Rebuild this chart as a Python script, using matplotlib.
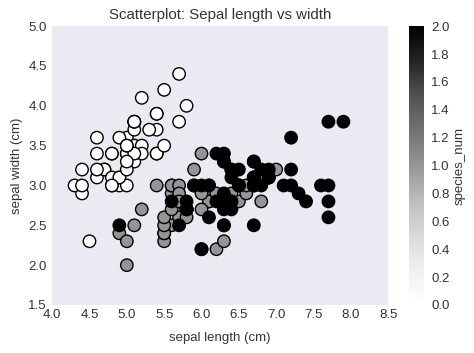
import matplotlib
matplotlib.use('Agg')
import matplotlib.pyplot as plt
import numpy as np

sepal_length = [
    5.1, 4.9, 4.7, 4.6, 5.0, 5.4, 4.6, 5.0, 4.4, 4.9, 5.4, 4.8, 4.8, 4.3, 5.8, 5.7, 5.4, 5.1, 5.7, 5.1,
    5.4, 5.1, 4.6, 5.1, 4.8, 5.0, 5.0, 5.2, 5.2, 4.7, 4.8, 5.4, 5.2, 5.5, 4.9, 5.0, 5.5, 4.9, 4.4, 5.1,
    5.0, 4.5, 4.4, 5.0, 5.1, 4.8, 5.1, 4.6, 5.3, 5.0,
    7.0, 6.4, 6.9, 5.5, 6.5, 5.7, 6.3, 4.9, 6.6, 5.2, 5.0, 5.9, 6.0, 6.1, 5.6, 6.7, 5.6, 5.8, 6.2, 5.6,
    5.9, 6.1, 6.3, 6.1, 6.4, 6.6, 6.8, 6.7, 6.0, 5.7, 5.5, 5.5, 5.8, 6.0, 5.4, 6.0, 6.7, 6.3, 5.6, 5.5,
    5.5, 6.1, 5.8, 5.0, 5.6, 5.7, 5.7, 6.2, 5.1, 5.7,
    6.3, 5.8, 7.1, 6.3, 6.5, 7.6, 4.9, 7.3, 6.7, 7.2, 6.5, 6.4, 6.8, 5.7, 5.8, 6.4, 6.5, 7.7, 7.7, 6.0,
    6.9, 5.6, 7.7, 6.3, 6.7, 7.2, 6.2, 6.1, 6.4, 7.2, 7.4, 7.9, 6.4, 6.3, 6.1, 7.7, 6.3, 6.4, 6.0, 6.9,
    6.7, 6.9, 5.8, 6.8, 6.7, 6.7, 6.3, 6.5, 6.2, 5.9,
]
sepal_width = [
    3.5, 3.0, 3.2, 3.1, 3.6, 3.9, 3.4, 3.4, 2.9, 3.1, 3.7, 3.4, 3.0, 3.0, 4.0, 4.4, 3.9, 3.5, 3.8, 3.8,
    3.4, 3.7, 3.6, 3.3, 3.4, 3.0, 3.4, 3.5, 3.4, 3.2, 3.1, 3.4, 4.1, 4.2, 3.1, 3.2, 3.5, 3.6, 3.0, 3.4,
    3.5, 2.3, 3.2, 3.5, 3.8, 3.0, 3.8, 3.2, 3.7, 3.3,
    3.2, 3.2, 3.1, 2.3, 2.8, 2.8, 3.3, 2.4, 2.9, 2.7, 2.0, 3.0, 2.2, 2.9, 2.9, 3.1, 3.0, 2.7, 2.2, 2.5,
    3.2, 2.8, 2.5, 2.8, 2.9, 3.0, 2.8, 3.0, 2.9, 2.6, 2.4, 2.4, 2.7, 2.7, 3.0, 3.4, 3.1, 2.3, 3.0, 2.5,
    2.6, 3.0, 2.6, 2.3, 2.7, 3.0, 2.9, 2.9, 2.5, 2.8,
    3.3, 2.7, 3.0, 2.9, 3.0, 3.0, 2.5, 2.9, 2.5, 3.6, 3.2, 2.7, 3.0, 2.5, 2.8, 3.2, 3.0, 3.8, 2.6, 2.2,
    3.2, 2.8, 2.8, 2.7, 3.3, 3.2, 2.8, 3.0, 2.8, 3.0, 2.8, 3.8, 2.8, 2.8, 2.6, 3.0, 3.4, 3.1, 3.0, 3.1,
    3.1, 3.1, 2.7, 3.2, 3.3, 3.0, 2.5, 3.0, 3.4, 3.0,
]
species_num = [0] * 50 + [1] * 50 + [2] * 50

plt.rcParams['font.family'] = ['Liberation Sans', 'DejaVu Sans']
txt = '#333333'

fig = plt.figure(figsize=(4.74, 3.53), dpi=100)
ax = fig.add_axes([0.110, 0.136, 0.709, 0.790])
cax = fig.add_axes([0.863, 0.136, 0.032, 0.790])

ax.set_facecolor('#EAEAF2')
for s in ax.spines.values():
    s.set_visible(False)

sc = ax.scatter(sepal_length, sepal_width, c=species_num, cmap='Greys',
                s=80, edgecolors='black', linewidths=1, vmin=0, vmax=2)

ax.set_xlim(4.0, 8.5)
ax.set_ylim(1.5, 5.0)
ax.set_xticks(np.arange(4.0, 8.51, 0.5))
ax.set_yticks(np.arange(1.5, 5.01, 0.5))
ax.tick_params(length=0, labelsize=9.5, colors=txt)
ax.tick_params(axis='x', pad=3)
ax.tick_params(axis='y', pad=4)
ax.set_xlabel('sepal length (cm)', fontsize=9.5, color=txt, labelpad=8)
ax.set_ylabel('sepal width (cm)', fontsize=9.5, color=txt, labelpad=4)
ax.set_title('Scatterplot: Sepal length vs width', fontsize=10.8, color=txt, pad=5)

cb = fig.colorbar(sc, cax=cax)
cb.outline.set_visible(False)
cb.set_ticks(np.arange(0, 2.01, 0.2))
cb.ax.tick_params(length=0, labelsize=9.5, colors=txt, pad=5)
cb.set_label('species_num', fontsize=9.5, color=txt, labelpad=3)

fig.savefig('out.png', dpi=100)
